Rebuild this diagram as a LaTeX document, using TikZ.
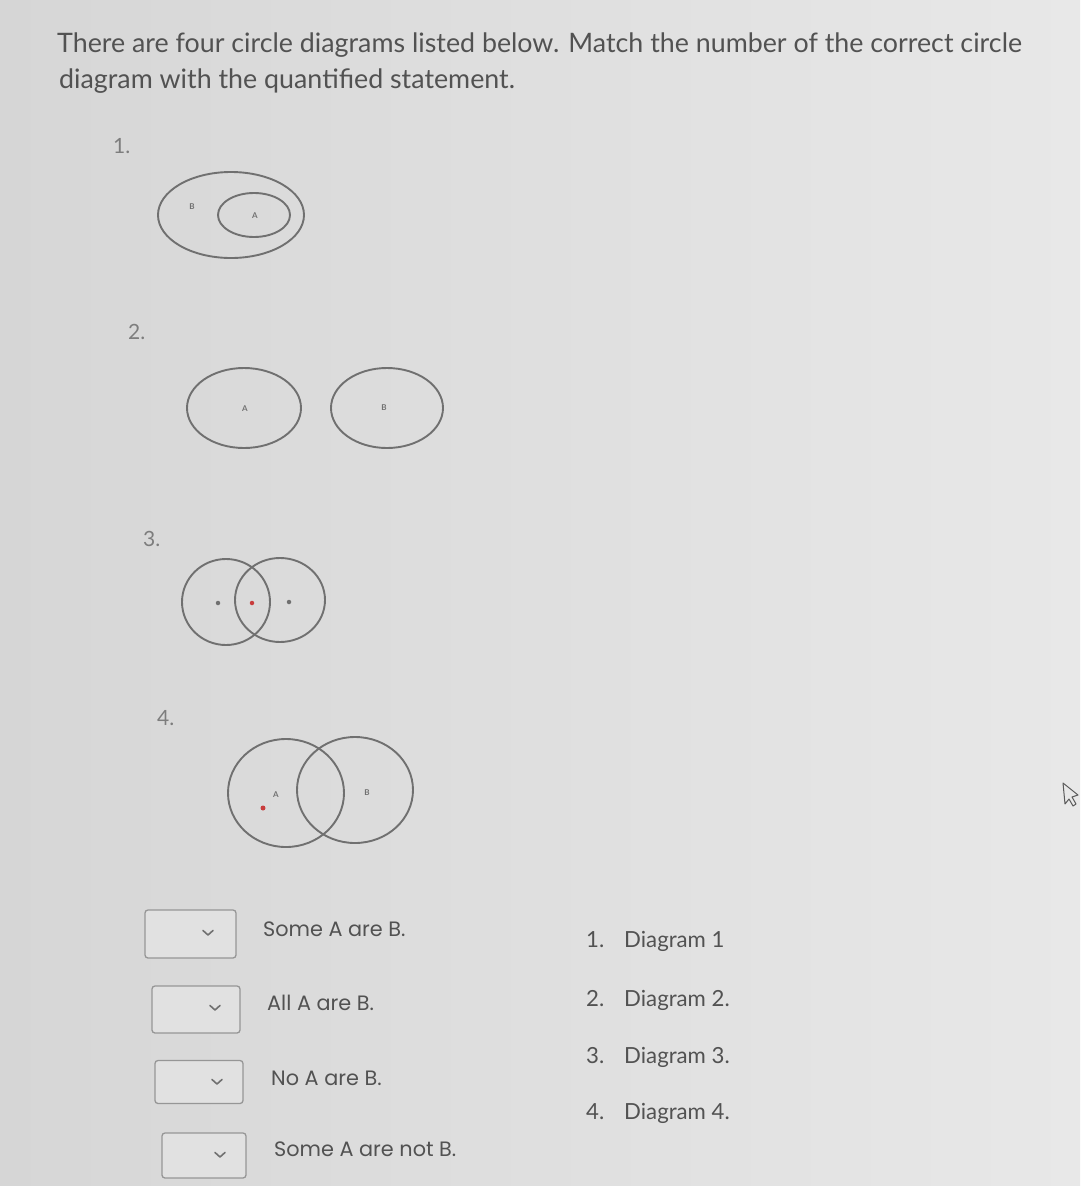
\documentclass[tikz,border=0pt]{standalone}
\usepackage{fontspec}
\setmainfont{Lato}
\newfontfamily\statfont{Poppins}
\usetikzlibrary{shapes.geometric}
\definecolor{bgl}{RGB}{214,214,214}
\definecolor{bgr}{RGB}{232,232,232}
\definecolor{txt}{RGB}{82,82,82}
\definecolor{numc}{RGB}{125,125,125}
\definecolor{circ}{RGB}{112,112,112}
\definecolor{boxc}{RGB}{150,150,150}
\definecolor{reddot}{RGB}{200,60,60}
\tikzset{
  title/.style={anchor=base west, inner sep=0, text=txt, font=\fontsize{26.8}{30}\selectfont},
  num/.style={anchor=base west, inner sep=0, text=numc, font=\fontsize{21}{24}\selectfont},
  oval/.style={ellipse, draw=circ, line width=1.9pt, inner sep=0},
  tiny/.style={inner sep=0, text=circ, font=\fontsize{8}{9}\selectfont\bfseries},
  dropbox/.style={draw=boxc, line width=1.3pt, rounded corners=3pt, fill=bgr!60!bgl, inner sep=0},
  chev/.style={draw=circ, line width=1.6pt, line cap=round, line join=round},
  stmt/.style={anchor=west, inner sep=0, text=txt, font=\statfont\fontsize{20.8}{24}\selectfont},
  lst/.style={anchor=base west, inner sep=0, text=txt, font=\fontsize{22.2}{26}\selectfont},
  dotst/.style={circle, inner sep=0, minimum size=4.5pt}
}
\begin{document}
\begin{tikzpicture}[x=1pt,y=-1pt]
\useasboundingbox (0,0) rectangle (1080,1186);
\shade[left color=bgl, right color=bgr] (0,0) rectangle (1080,1186);

% title
\node[title] (t1) at (57,52) {There are four circle diagrams listed below. Match the number of the correct circle};
\node[title] (t2) at (59,88) {diagram with the quantified statement.};

% numbers
\node[num] (n1) at (113,153) {1.};
\node[num] (n2) at (128,339) {2.};
\node[num] (n3) at (143,546) {3.};
\node[num] (n4) at (157,725) {4.};

% diagram 1
\node[oval, minimum width=146pt, minimum height=86pt] (d1o) at (231,215) {};
\node[oval, minimum width=72pt, minimum height=44pt] (d1i) at (254,215) {};
\node[tiny] (d1b) at (192,207) {B};
\node[tiny] (d1a) at (255,216) {A};

% diagram 2
\node[oval, minimum width=114pt, minimum height=80pt] (d2a) at (244,408) {};
\node[oval, minimum width=112pt, minimum height=80pt] (d2b) at (387,408) {};
\node[tiny] (d2al) at (245,409) {A};
\node[tiny] (d2bl) at (384,408) {B};

% diagram 3
\node[oval, minimum width=88pt, minimum height=86pt] (d3a) at (226,602) {};
\node[oval, minimum width=90pt, minimum height=84pt] (d3b) at (280,600) {};
\node[dotst, fill=circ] (d3x) at (218,603) {};
\node[dotst, fill=reddot] (d3y) at (252,603) {};
\node[dotst, fill=circ] (d3z) at (289,602) {};

% diagram 4
\node[oval, minimum width=116pt, minimum height=108pt] (d4a) at (286,793) {};
\node[oval, minimum width=116pt, minimum height=106pt] (d4b) at (355,790) {};
\node[tiny] (d4al) at (276,795) {A};
\node[tiny] (d4bl) at (367,793) {B};
\node[dotst, fill=reddot, minimum size=5pt] (d4r) at (263,808) {};

% dropdown boxes
\node[dropbox, minimum width=91pt, minimum height=48pt] (b1) at (190.5,934) {};
\node[dropbox, minimum width=88pt, minimum height=47pt] (b2) at (196,1009.5) {};
\node[dropbox, minimum width=88pt, minimum height=43pt] (b3) at (199,1082) {};
\node[dropbox, minimum width=84pt, minimum height=45pt] (b4) at (204,1155.5) {};
\draw[chev] (203,930.5) -- (208,935) -- (213,930.5);
\draw[chev] (210,1005.5) -- (215,1010) -- (220,1005.5);
\draw[chev] (212,1079.5) -- (217,1084) -- (222,1079.5);
\draw[chev] (215,1152.5) -- (220,1157) -- (225,1152.5);

% statements
\node[stmt] (s1) at (263,929) {Some A are B.};
\node[stmt] (s2) at (267,1003) {All A are B.};
\node[stmt] (s3) at (271,1078) {No A are B.};
\node[stmt] (s4) at (274,1149) {Some A are not B.};

% right list
\node[lst] (l1) at (586,947) {1.};
\node[lst] (l1t) at (624,947) {Diagram 1};
\node[lst] (l2) at (586,1006) {2.};
\node[lst] (l2t) at (624,1006) {Diagram 2.};
\node[lst] (l3) at (586,1063) {3.};
\node[lst] (l3t) at (624,1063) {Diagram 3.};
\node[lst] (l4) at (586,1119) {4.};
\node[lst] (l4t) at (624,1119) {Diagram 4.};

% mouse cursor
\draw[draw=circ!80!black, fill=bgr, line width=1pt, line join=round]
  (1063,783) -- (1065,804) -- (1069,799) -- (1073,806) -- (1076,804) -- (1072,797) -- (1078,795) -- cycle;
\end{tikzpicture}
\end{document}
